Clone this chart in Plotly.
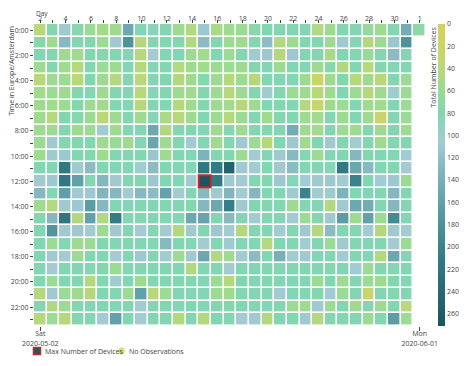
import pandas as pd
import plotly.graph_objects as go

# ---- categories ----
dates = pd.date_range("2020-05-02", "2020-06-01", freq="D").strftime("%Y-%m-%d").tolist()
day_labels = ["2", "", "4", "", "6", "", "8", "", "10", "", "12", "", "14", "", "16", "",
              "18", "", "20", "", "22", "", "24", "", "26", "", "28", "", "30", "", "1"]
hour_labels = ["0:00", "", "2:00", "", "4:00", "", "6:00", "", "8:00", "", "10:00", "",
               "12:00", "", "14:00", "", "16:00", "", "18:00", "", "20:00", "", "22:00", ""]
bottom_tick_dates = ["2020-05-02", "2020-06-01"]
bottom_tick_text = ["Sat<br>2020-05-02", "Mon<br>2020-06-01"]

# ---- values: total number of devices per hour (rows) and day May 2 .. May 31 (+ Jun 1) ----
h00 = [40, 78, 108, 76, 58, 52, 56, 150, 80, 88, 80, 56, 44, 110, 50, 56, 58, 74, 80, 82, 80, 82, 46, 56, 80, 82, 64, 56, 82, 145, 70]
h01 = [76, 56, 128, 80, 78, 58, 108, 180, 42, 82, 80, 78, 44, 125, 80, 58, 56, 80, 122, 44, 58, 80, 80, 56, 108, 82, 44, 56, 112, 180]
h02 = [80, 78, 56, 54, 78, 76, 80, 82, 40, 106, 80, 82, 56, 54, 80, 58, 78, 104, 110, 42, 110, 80, 78, 50, 80, 78, 60, 80, 125, 82]
h03 = [56, 78, 56, 42, 80, 58, 56, 80, 42, 82, 80, 44, 56, 54, 56, 58, 56, 78, 82, 58, 80, 82, 56, 76, 44, 80, 40, 78, 82, 80]
h04 = [40, 56, 58, 40, 78, 56, 44, 82, 38, 84, 80, 44, 56, 76, 56, 44, 58, 42, 80, 82, 82, 56, 24, 56, 78, 42, 56, 40, 82, 58]
h05 = [54, 58, 56, 78, 80, 56, 80, 82, 40, 84, 80, 56, 54, 78, 56, 42, 58, 80, 104, 80, 58, 56, 40, 56, 80, 58, 42, 56, 102, 58]
h06 = [56, 54, 58, 78, 56, 54, 80, 82, 42, 82, 80, 42, 56, 78, 56, 54, 42, 58, 80, 78, 80, 42, 28, 56, 58, 80, 56, 54, 82, 58]
h07 = [56, 42, 80, 76, 58, 38, 56, 82, 56, 84, 48, 42, 56, 80, 56, 42, 58, 80, 56, 80, 80, 56, 54, 80, 58, 80, 56, 26, 82, 58]
h08 = [56, 58, 80, 56, 58, 106, 56, 80, 82, 150, 44, 80, 80, 82, 56, 80, 58, 78, 80, 82, 145, 56, 54, 80, 58, 56, 80, 56, 82, 58]
h09 = [58, 108, 80, 78, 80, 56, 60, 56, 82, 152, 56, 80, 106, 82, 56, 80, 108, 58, 42, 80, 110, 56, 80, 108, 80, 106, 80, 56, 82, 80]
h10 = [56, 108, 110, 80, 78, 56, 80, 82, 80, 112, 56, 80, 82, 135, 80, 78, 56, 106, 82, 108, 128, 80, 56, 82, 80, 130, 78, 80, 82, 106]
h11 = [80, 82, 215, 108, 125, 80, 82, 80, 106, 125, 80, 82, 84, 215, 210, 250, 108, 106, 80, 108, 125, 80, 82, 84, 215, 150, 128, 80, 82, 106]
h12 = [108, 110, 215, 160, 80, 130, 108, 82, 80, 110, 80, 82, 106, 271, 212, 108, 106, 82, 80, 110, 85, 106, 108, 110, 106, 200, 80, 106, 110, 58]
h13 = [130, 80, 162, 108, 110, 132, 130, 106, 128, 125, 158, 106, 82, 128, 108, 132, 106, 130, 80, 82, 108, 200, 106, 100, 135, 80, 82, 80, 130, 82]
h14 = [56, 44, 108, 110, 165, 130, 80, 82, 80, 82, 80, 82, 80, 130, 150, 205, 108, 80, 82, 80, 56, 82, 80, 44, 108, 150, 145, 80, 130, 82]
h15 = [80, 130, 220, 44, 160, 46, 210, 82, 80, 82, 80, 82, 150, 155, 80, 128, 82, 106, 80, 82, 106, 58, 80, 108, 165, 56, 160, 58, 190, 82]
h16 = [80, 175, 108, 110, 106, 58, 108, 82, 106, 82, 106, 44, 108, 80, 110, 106, 44, 82, 80, 106, 82, 108, 44, 125, 80, 82, 106, 42, 108, 106]
h17 = [80, 58, 80, 56, 58, 80, 82, 80, 82, 80, 128, 80, 82, 106, 80, 108, 82, 80, 44, 80, 82, 106, 80, 58, 108, 82, 80, 82, 106, 58]
h18 = [80, 108, 106, 58, 80, 82, 106, 80, 110, 82, 106, 58, 108, 150, 44, 58, 106, 125, 80, 140, 106, 108, 80, 82, 106, 80, 82, 42, 150, 82]
h19 = [82, 106, 80, 82, 80, 78, 58, 80, 82, 80, 82, 80, 44, 82, 80, 106, 80, 82, 80, 82, 80, 82, 80, 78, 82, 106, 58, 80, 82, 80]
h20 = [80, 58, 82, 80, 44, 80, 106, 80, 56, 82, 80, 82, 80, 82, 58, 44, 80, 82, 80, 82, 80, 82, 58, 80, 56, 82, 58, 56, 80, 82]
h21 = [44, 108, 58, 56, 42, 80, 82, 58, 160, 40, 58, 80, 82, 80, 58, 56, 80, 82, 80, 106, 80, 82, 80, 106, 58, 80, 28, 82, 80, 82]
h22 = [80, 44, 58, 80, 82, 80, 82, 80, 106, 82, 80, 82, 80, 82, 80, 78, 82, 80, 82, 80, 58, 56, 108, 58, 80, 56, 82, 58, 80, 40]
h23 = [42, 58, 42, 80, 82, 106, 160, 80, 106, 82, 80, 44, 82, 44, 80, 82, 106, 108, 44, 82, 80, 108, 44, 82, 80, 82, 58, 80, 165, 58]

rows = [h00, h01, h02, h03, h04, h05, h06, h07, h08, h09, h10, h11,
        h12, h13, h14, h15, h16, h17, h18, h19, h20, h21, h22, h23]
VMAX = 271

# ---- styling ----
FONT = "Open Sans"
TXT = "#444444"
stops = [(0, "#d6d05c"), (25, "#cad56a"), (42, "#b6d87c"), (56, "#9edb90"), (80, "#82d6b2"),
         (106, "#a2cbd2"), (128, "#88b8c0"), (158, "#63a2aa"), (205, "#367f88"), (271, "#1b5462")]
# colorbar drawn with 0 at the top: plot negated values
colorscale = sorted([[(VMAX - v) / VMAX, c] for v, c in stops])

n_cols = len(dates)
z = []
for r in rows:
    full = r + [None] * (n_cols - len(r))
    z.append([(-v if v is not None else None) for v in full])

fig = go.Figure()
fig.add_trace(go.Heatmap(
    z=z, x=dates, y=list(range(24)),
    colorscale=colorscale, zmin=-VMAX, zmax=0,
    xgap=1.6, ygap=1.6, hoverongaps=False,
    colorbar=dict(
        thickness=7, len=1, lenmode="fraction", y=0.5, yanchor="middle",
        x=1.031, xanchor="left", xpad=0, ypad=0, outlinewidth=0,
        tickvals=[-v for v in range(0, 261, 20)],
        ticktext=[str(v) for v in range(0, 261, 20)],
        tickfont=dict(size=7, color=TXT, family=FONT), ticks="",
    ),
))

# max cell highlight
best = max(((v, i, j) for i, r in enumerate(rows) for j, v in enumerate(r)), key=lambda t: t[0])
fig.add_trace(go.Scatter(
    x=[dates[best[2]]], y=[best[1]], mode="markers", showlegend=False, hoverinfo="skip",
    marker=dict(symbol="square", size=12, color="#1b5462", line=dict(color="#c8262a", width=2)),
))
# anchor trace for the top axis
fig.add_trace(go.Scatter(x=[dates[0]], y=[0], xaxis="x2", mode="markers",
                         marker=dict(opacity=0), showlegend=False, hoverinfo="skip"))

xr = ["2020-05-01 12:00", "2020-06-01 12:00"]
fig.update_layout(
    width=466, height=358,
    margin=dict(l=26, r=48, t=16, b=40),
    paper_bgcolor="white", plot_bgcolor="white",
    font=dict(family=FONT, size=7, color=TXT),
    showlegend=False,
    xaxis=dict(type="date", range=xr, showgrid=False, zeroline=False, showline=False,
               automargin=False, ticklabelstandoff=-3,
               tickmode="array", tickvals=bottom_tick_dates, ticktext=bottom_tick_text,
               ticks="outside", ticklen=4, tickcolor=TXT, tickfont=dict(size=7)),
    xaxis2=dict(type="date", range=xr, overlaying="x", side="top", showgrid=False,
                zeroline=False, showline=False, automargin=False, ticklabelstandoff=-4,
                tickmode="array", tickvals=dates,
                ticktext=day_labels, ticks="outside", ticklen=3, tickcolor=TXT,
                tickfont=dict(size=7)),
    yaxis=dict(range=[23.5, -0.5], showgrid=False, zeroline=False, showline=False,
               automargin=False,
               tickmode="array", tickvals=list(range(24)), ticktext=hour_labels,
               ticks="outside", ticklen=3, tickcolor=TXT, tickfont=dict(size=7)),
)

ann = [
    dict(text="Day", x=0, xanchor="left", y=1.057, yanchor="top", font=dict(size=6.5, color=TXT, family=FONT)),
    dict(text="Time in Europe/Amsterdam", textangle=-90, x=-0.059, xanchor="center", y=1, yanchor="top"),
    dict(text="Total Number of Devices", textangle=-90, x=1.0204, xanchor="center", y=1, yanchor="top"),
    dict(text="Max Number of Devices", x=0.023, xanchor="left", y=-0.083, yanchor="middle"),
    dict(text="No Observations", x=0.2372, xanchor="left", y=-0.083, yanchor="middle"),
]
for a in ann:
    a.setdefault("font", dict(size=7, color=TXT, family=FONT))
    fig.add_annotation(xref="paper", yref="paper", showarrow=False, **a)

fig.add_shape(type="rect", xref="paper", yref="paper", x0=-0.0013, x1=0.0166, y0=-0.0944, y1=-0.0712,
              fillcolor="#1e5a66", line=dict(color="#c8262a", width=1.5))
fig.add_shape(type="circle", xref="paper", yref="paper", x0=0.2143, x1=0.2321, y0=-0.0944, y1=-0.0712,
              fillcolor="#dcdc78", line=dict(color="#ecebb0", width=1))

fig.write_html("out.html")
